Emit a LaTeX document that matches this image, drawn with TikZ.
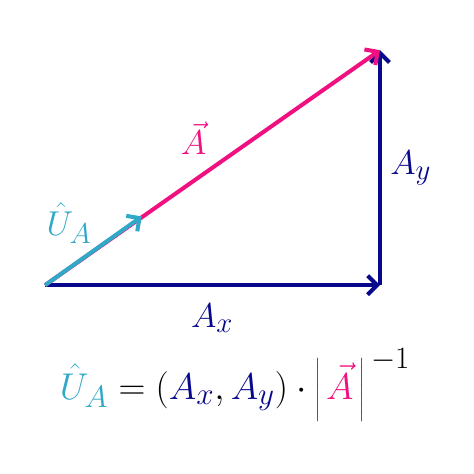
\documentclass[tikz,border=0pt]{standalone}
\usepackage{tikz}
\usetikzlibrary{arrows.meta}
\definecolor{vecnavy}{RGB}{8,8,140}
\definecolor{vecpink}{RGB}{240,16,128}
\definecolor{veccyan}{RGB}{48,168,200}
\tikzset{
	vecline/.style={line width=2.9pt, -{Straight Barb[length=2.4mm,width=4.8mm]}},
	veclabel/.style={font=\Huge}
}

\begin{document}
\begin{tikzpicture}
		%%%%% START %%%%%
		\useasboundingbox (0, 0) rectangle (12, 12);
		
		\coordinate (O) at (1.14, 4.78);
		\coordinate (X) at (9.62, 4.78);
		\coordinate (Y) at (9.62, 10.73);
		\coordinate (U) at (3.59, 6.52);
		
		\draw[vecline, color=vecnavy] (O) -- (X);
		\draw[vecline, color=vecnavy] (X) -- (Y);
		\draw[vecline, color=vecpink, line cap=butt] (O) -- (Y);
		\draw[vecline, color=veccyan] (O) -- (U);
		
		\node[veclabel, color=vecnavy] (ax) at (5.37, 3.95) {$A_x$};
		\node[veclabel, color=vecnavy] (ay) at (10.4, 7.75) {$A_y$};
		\node[veclabel, color=vecpink] (av) at (4.9, 8.5) {$\vec{A}$};
		\node[veclabel, color=veccyan] (ua) at (1.75, 6.35) {$\hat{U}_A$};
		
		\node[veclabel, scale=1.08, transform shape] (eq) at (5.95, 2.25) {$\color{veccyan}\hat{U}_A \color{black} = (\color{vecnavy}A_x\color{black}, \color{vecnavy}A_y\color{black}) \cdot \left|\rule[-0.58em]{0pt}{1.62em}\,\color{vecpink}\vec{A}\,\color{black}\right|^{\raisebox{0.45em}{$\scriptstyle -1$}}$};
		%%%%% END %%%%%
	\end{tikzpicture}
\end{document}
